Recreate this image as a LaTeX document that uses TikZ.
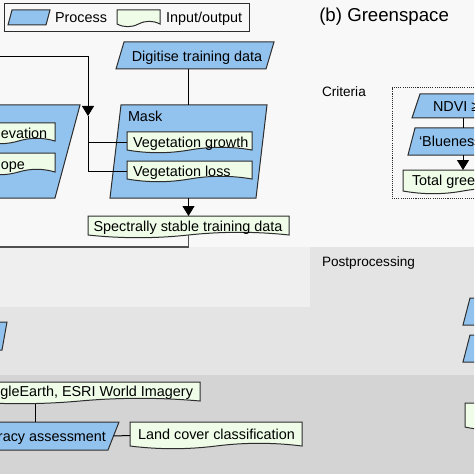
\documentclass[tikz,border=0pt]{standalone}
\usepackage{fontspec}
\setmainfont{Liberation Sans}
\usetikzlibrary{fit,calc,arrows.meta}
\definecolor{procblue}{RGB}{146,194,238}
\definecolor{iogreen}{RGB}{238,252,232}
\definecolor{edgec}{RGB}{45,45,45}
\definecolor{bgA}{RGB}{248,248,248}
\definecolor{bgB}{RGB}{239,239,239}
\definecolor{bgC}{RGB}{228,228,228}
\definecolor{bgD}{RGB}{212,212,212}
\newcommand\procshape[2]{\filldraw[procsty] ($(#1.north west)+(#2,0)$) -- (#1.north east) -- ($(#1.south east)+(-#2,0)$) -- (#1.south west) -- cycle;}
\newcommand\docshape[1]{\filldraw[docsty] (#1.north west) -- (#1.north east) -- ($(#1.south east)+(0,-3)$)
  .. controls ($(#1.south west)!0.8333!(#1.south east)+(0,-6.6)$) and ($(#1.south west)!0.6667!(#1.south east)+(0,-6.6)$) .. ($(#1.south west)!0.5!(#1.south east)+(0,-3)$)
  .. controls ($(#1.south west)!0.3333!(#1.south east)+(0,0.6)$) and ($(#1.south west)!0.1667!(#1.south east)+(0,0.6)$) .. ($(#1.south west)+(0,-3)$) -- cycle;}
\begin{document}
\begin{tikzpicture}[x=0.75pt,y=-0.75pt,
  shp/.style={inner sep=0pt,outer sep=0pt},
  procsty/.style={fill=procblue,draw=edgec,line width=0.75pt,line join=miter},
  docsty/.style={fill=iogreen,draw=edgec,line width=0.75pt},
  lbl/.style={inner sep=0pt,outer sep=0pt,font=\fontsize{10.8}{12}\selectfont,text height=7.8pt,text depth=0pt},
  seclbl/.style={inner sep=0pt,outer sep=0pt,font=\fontsize{10.2}{12}\selectfont,text height=7.3pt,text depth=0pt},
  con/.style={draw=black,line width=0.75pt},
  arr/.style={con,-{Triangle[width=9pt,length=7.5pt]}}]
\useasboundingbox (0,0) rectangle (474,474);
\clip (0,0) rectangle (474,474);
% background bands
\fill[bgA] (0,0) rectangle (474,247);
\fill[bgB] (0,247) rectangle (310,307);
\fill[bgC] (310,247) rectangle (474,375);
\fill[bgC] (0,307) rectangle (310,375);
\fill[bgD] (0,375) rectangle (474,474);
% legend
\node[shp,draw=edgec,line width=0.75pt,fit={(4,4)(249,32)}] (legend) {};
\node[shp,fit={(8,10)(50,25)}] (lgp) {}; \procshape{lgp}{4}
\node[lbl,anchor=west] (lgpt) at (55,17.5) {Process};
\node[shp,fit={(117,10)(160,27)}] (lgd) {}; \docshape{lgd}
\node[lbl,anchor=west] (lgdt) at (166,17.5) {Input/output};
% left process shape
\node[shp,fit={(-100,105)(80,198)}] (lp) {}; \procshape{lp}{25}
\node[shp,fit={(-18,123)(55,144)}] (el) {}; \docshape{el}
\node[lbl,anchor=west] (elt) at (-12,133) {Elevation};
\node[shp,fit={(-18,153)(55,175)}] (sl) {}; \docshape{sl}
\node[lbl,anchor=west] (slt) at (-12,164) {Slope};
% digitise + mask
\node[shp,fit={(116,42)(274,69)}] (dig) {}; \procshape{dig}{8}
\node[lbl] (digt) at (197,56) {Digitise training data};
\node[shp,fit={(110,105)(267,198)}] (mask) {}; \procshape{mask}{11}
\node[lbl,anchor=west] (maskt) at (128,116.5) {Mask};
\node[shp,fit={(127,132)(252,153)}] (vg) {}; \docshape{vg}
\node[lbl,anchor=west] (vgt) at (133,142) {Vegetation growth};
\node[shp,fit={(127,161)(252,182)}] (vl) {}; \docshape{vl}
\node[lbl,anchor=west] (vlt) at (133,171) {Vegetation loss};
\node[shp,fit={(88,216)(289,238)}] (sst) {}; \docshape{sst}
\node[lbl] (sstt) at (188,226.5) {Spectrally stable training data};
% connectors left/top
\coordinate (inA) at (-5,57);
\coordinate (jn) at (88,116);
\draw[arr] (inA) -| (jn);
\draw[con] (jn) |- (vg.west);
\draw[con] (jn) |- (vl.west);
\draw[con] (mask.north) -- (mask.north |- dig.south);
\draw[arr] (mask.south) -- (sst.north);
\coordinate (outL) at (-5,247);
\draw[draw={rgb,255:red,80;green,80;blue,80},line width=1.2pt] ($(sst.south)+(0,-3)$) |- (outL);
% right: greenspace
\node[inner sep=0pt,anchor=west,font=\fontsize{14}{16}\selectfont] (gs) at (319,17) {(b) Greenspace};
\node[seclbl,anchor=west] (crit) at (322,92) {Criteria};
\node[shp,draw=edgec,line width=0.75pt,dash pattern=on 0.8pt off 0.8pt,fit={(392,88)(490,198)}] (critbox) {};
\node[shp,fit={(412,94)(514,118)}] (ndvi) {}; \procshape{ndvi}{8}
\node[lbl,anchor=west] (ndvit) at (433,106) {NDVI ≥};
\node[shp,fit={(408,128)(518,155)}] (blu) {}; \procshape{blu}{7}
\node[lbl,anchor=west] (blut) at (419,141.5) {‘Blueness’};
\node[shp,fit={(403,170)(523,194)}] (tot) {}; \docshape{tot}
\node[lbl,anchor=west] (tott) at (412,180.5) {Total greenspace};
\draw[con] (ndvi.south) -- (blu.north);
\draw[arr] (blu.south) -- (tot.north);
% postprocessing
\node[seclbl,anchor=west] (post) at (322,262) {Postprocessing};
\node[shp,fit={(463,298)(560,325)}] (pp1) {}; \procshape{pp1}{7}
\node[shp,fit={(463,335)(560,362)}] (pp2) {}; \procshape{pp2}{7}
\node[shp,fit={(465,403)(560,430)}] (pp3) {}; \docshape{pp3}
% lower left
\node[shp,fit={(-60,322)(7,350)}] (lc) {}; \procshape{lc}{5}
\node[shp,fit={(-40,382)(200,404)}] (ge) {}; \docshape{ge}
\node[lbl,anchor=east] (get) at (193,391.5) {GoogleEarth, ESRI World Imagery};
\node[shp,fit={(-49,422)(119,450)}] (acc) {}; \procshape{acc}{11}
\node[lbl,anchor=east] (acct) at (106,436) {Accuracy assessment};
\node[shp,fit={(130,422)(302,449)}] (lcv) {}; \docshape{lcv}
\node[lbl] (lcvt) at (216.5,434) {Land cover classification};
\draw[con] (acc.north) -- (acc.north |- ge.south);
\draw[con] ($(acc.east)+(-5.5,0)$) -- (lcv.west);
\end{tikzpicture}
\end{document}
